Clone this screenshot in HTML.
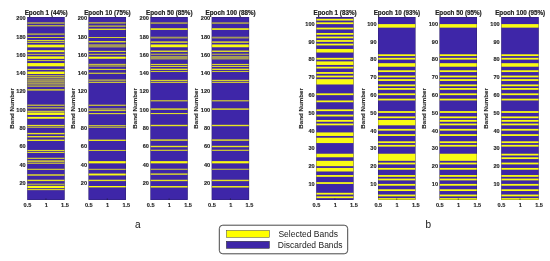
<!DOCTYPE html>
<html lang="en"><head><meta charset="utf-8"><title>Selected vs Discarded Bands</title>
<style>html,body{margin:0;padding:0;background:#fff}svg{display:block}text{font-family:"Liberation Sans",Arial,sans-serif;fill:#222}.t{font-size:6.3px;font-weight:bold;text-anchor:middle;stroke:#222;stroke-width:0.2px}.k{font-size:5.6px;font-weight:bold;stroke:#222;stroke-width:0.12px}.yl{font-size:6.2px;font-weight:bold;text-anchor:middle;stroke:#222;stroke-width:0.1px}.cap{font-size:10px;text-anchor:middle;fill:#111}.lg{font-size:8.5px;text-anchor:middle}</style></head><body>
<svg width="550" height="261" viewBox="0 0 550 261">
<defs><filter id="vb" x="-5%" y="-5%" width="110%" height="110%"><feGaussianBlur stdDeviation="0 0.15"/></filter></defs>
<rect width="550" height="261" fill="#fff"/>
<clipPath id="ca0"><rect x="27.2" y="17.12" width="37.5" height="182.78"/></clipPath>
<g clip-path="url(#ca0)"><g>
<rect x="24.2" y="13" width="43.5" height="190.9" fill="#3E26A8"/>
<rect x="24.2" y="22.45" width="43.5" height="1.1" fill="#F9FB14" fill-opacity="0.86"/>
<rect x="24.2" y="25.25" width="43.5" height="1.1" fill="#F9FB14" fill-opacity="0.86"/>
<rect x="24.2" y="33.55" width="43.5" height="1.1" fill="#F9FB14" fill-opacity="0.86"/>
<rect x="24.2" y="37" width="43.5" height="1" fill="#F9FB14" fill-opacity="0.8"/>
<rect x="24.2" y="39.96" width="43.5" height="1.08" fill="#F9FB14" fill-opacity="0.86"/>
<rect x="24.2" y="41.76" width="43.5" height="1.08" fill="#F9FB14" fill-opacity="0.86"/>
<rect x="24.2" y="44.65" width="43.5" height="2.7" fill="#F9FB14"/>
<rect x="24.2" y="50.25" width="43.5" height="1.9" fill="#F9FB14"/>
<rect x="24.2" y="53.8" width="43.5" height="1" fill="#F9FB14" fill-opacity="0.8"/>
<rect x="24.2" y="56.35" width="43.5" height="2.5" fill="#F9FB14"/>
<rect x="24.2" y="60.1" width="43.5" height="1" fill="#F9FB14" fill-opacity="0.8"/>
<rect x="24.2" y="63.05" width="43.5" height="3.3" fill="#F9FB14"/>
<rect x="24.2" y="68.85" width="43.5" height="1.1" fill="#F9FB14" fill-opacity="0.86"/>
<rect x="24.2" y="71.55" width="43.5" height="2.5" fill="#F9FB14"/>
<rect x="24.2" y="75.25" width="43.5" height="1.1" fill="#F9FB14" fill-opacity="0.86"/>
<rect x="24.2" y="77.25" width="43.5" height="1.1" fill="#F9FB14" fill-opacity="0.86"/>
<rect x="24.2" y="79.45" width="43.5" height="1.1" fill="#F9FB14" fill-opacity="0.86"/>
<rect x="24.2" y="81.35" width="43.5" height="1.1" fill="#F9FB14" fill-opacity="0.86"/>
<rect x="24.2" y="83.35" width="43.5" height="1.1" fill="#F9FB14" fill-opacity="0.86"/>
<rect x="24.2" y="85.55" width="43.5" height="1.1" fill="#F9FB14" fill-opacity="0.86"/>
<rect x="24.2" y="89.3" width="43.5" height="1.2" fill="#F9FB14"/>
<rect x="24.2" y="104.65" width="43.5" height="1.1" fill="#F9FB14" fill-opacity="0.86"/>
<rect x="24.2" y="107.35" width="43.5" height="1.1" fill="#F9FB14" fill-opacity="0.86"/>
<rect x="24.2" y="110.7" width="43.5" height="1.7" fill="#F9FB14" fill-opacity="0.75"/>
<rect x="24.2" y="112.65" width="43.5" height="2.3" fill="#F9FB14"/>
<rect x="24.2" y="116.85" width="43.5" height="1.9" fill="#F9FB14"/>
<rect x="24.2" y="124.88" width="43.5" height="1.25" fill="#F9FB14" fill-opacity="0.9"/>
<rect x="24.2" y="126.73" width="43.5" height="0.95" fill="#F9FB14" fill-opacity="0.86"/>
<rect x="24.2" y="132.9" width="43.5" height="1.4" fill="#F9FB14" fill-opacity="0.9"/>
<rect x="24.2" y="136" width="43.5" height="1.4" fill="#F9FB14" fill-opacity="0.9"/>
<rect x="24.2" y="139.6" width="43.5" height="1.4" fill="#F9FB14" fill-opacity="0.9"/>
<rect x="24.2" y="149.95" width="43.5" height="1.1" fill="#F9FB14" fill-opacity="0.86"/>
<rect x="24.2" y="151.85" width="43.5" height="1.1" fill="#F9FB14" fill-opacity="0.86"/>
<rect x="24.2" y="157.75" width="43.5" height="1.1" fill="#F9FB14" fill-opacity="0.86"/>
<rect x="24.2" y="160.4" width="43.5" height="1.4" fill="#F9FB14" fill-opacity="0.9"/>
<rect x="24.2" y="162.65" width="43.5" height="1.1" fill="#F9FB14" fill-opacity="0.86"/>
<rect x="24.2" y="168.75" width="43.5" height="1.1" fill="#F9FB14" fill-opacity="0.86"/>
<rect x="24.2" y="174.3" width="43.5" height="1.4" fill="#F9FB14" fill-opacity="0.9"/>
<rect x="24.2" y="179.7" width="43.5" height="1.4" fill="#F9FB14" fill-opacity="0.9"/>
<rect x="24.2" y="183.7" width="43.5" height="1" fill="#F9FB14" fill-opacity="0.8"/>
<rect x="24.2" y="185.85" width="43.5" height="2.3" fill="#F9FB14"/>
<rect x="24.2" y="189.05" width="43.5" height="1.1" fill="#F9FB14" fill-opacity="0.86"/>
</g></g>
<text class="t" x="46.15" y="14.7">Epoch 1 (44%)</text>
<text class="k" text-anchor="end" x="25.7" y="184.82">20</text>
<text class="k" text-anchor="end" x="25.7" y="166.53">40</text>
<text class="k" text-anchor="end" x="25.7" y="148.24">60</text>
<text class="k" text-anchor="end" x="25.7" y="129.95">80</text>
<text class="k" text-anchor="end" x="25.7" y="111.66">100</text>
<text class="k" text-anchor="end" x="25.7" y="93.37">120</text>
<text class="k" text-anchor="end" x="25.7" y="75.08">140</text>
<text class="k" text-anchor="end" x="25.7" y="56.79">160</text>
<text class="k" text-anchor="end" x="25.7" y="38.5">180</text>
<text class="k" text-anchor="end" x="25.7" y="20.21">200</text>
<text class="k" text-anchor="middle" x="27.5" y="207.35">0.5</text>
<text class="k" text-anchor="middle" x="46.25" y="207.35">1</text>
<text class="k" text-anchor="middle" x="65" y="207.35">1.5</text>
<rect x="27.45" y="17.25" width="37" height="182.4" fill="none" stroke="#1a1a1a" stroke-opacity="0.4" stroke-width="0.5"/>
<rect x="45.5" y="198.4" width="0.9" height="1.5" fill="#1a1a1a" fill-opacity="0.6"/>
<text class="yl" transform="translate(11.6 108.4) rotate(-90)" x="0" y="2.1">Band Number</text>
<clipPath id="ca1"><rect x="88.5" y="17.12" width="37.5" height="182.78"/></clipPath>
<g clip-path="url(#ca1)"><g>
<rect x="85.5" y="13" width="43.5" height="190.9" fill="#3E26A8"/>
<rect x="85.5" y="22.35" width="43.5" height="1.1" fill="#F9FB14" fill-opacity="0.86"/>
<rect x="85.5" y="25.55" width="43.5" height="1.1" fill="#F9FB14" fill-opacity="0.86"/>
<rect x="85.5" y="28.6" width="43.5" height="1.4" fill="#F9FB14" fill-opacity="0.9"/>
<rect x="85.5" y="37" width="43.5" height="1" fill="#F9FB14" fill-opacity="0.8"/>
<rect x="85.5" y="41.05" width="43.5" height="1.4" fill="#F9FB14" fill-opacity="0.9"/>
<rect x="85.5" y="44.2" width="43.5" height="3.3" fill="#F9FB14" fill-opacity="0.55"/>
<rect x="85.5" y="50.85" width="43.5" height="1.1" fill="#F9FB14" fill-opacity="0.86"/>
<rect x="85.5" y="53.8" width="43.5" height="1" fill="#F9FB14" fill-opacity="0.8"/>
<rect x="85.5" y="56.65" width="43.5" height="2.1" fill="#F9FB14"/>
<rect x="85.5" y="63.85" width="43.5" height="1" fill="#F9FB14" fill-opacity="0.86"/>
<rect x="85.5" y="65.5" width="43.5" height="1" fill="#F9FB14" fill-opacity="0.86"/>
<rect x="85.5" y="68.85" width="43.5" height="1.1" fill="#F9FB14" fill-opacity="0.86"/>
<rect x="85.5" y="72.7" width="43.5" height="1.1" fill="#F9FB14" fill-opacity="0.86"/>
<rect x="85.5" y="79.55" width="43.5" height="1.1" fill="#F9FB14" fill-opacity="0.86"/>
<rect x="85.5" y="81.75" width="43.5" height="1.1" fill="#F9FB14" fill-opacity="0.86"/>
<rect x="85.5" y="104.7" width="43.5" height="1.1" fill="#F9FB14" fill-opacity="0.86"/>
<rect x="85.5" y="108.51" width="43.5" height="0.98" fill="#F9FB14" fill-opacity="0.86"/>
<rect x="85.5" y="110.11" width="43.5" height="0.98" fill="#F9FB14" fill-opacity="0.86"/>
<rect x="85.5" y="113.05" width="43.5" height="1.1" fill="#F9FB14" fill-opacity="0.86"/>
<rect x="85.5" y="125.18" width="43.5" height="0.95" fill="#F9FB14" fill-opacity="0.86"/>
<rect x="85.5" y="126.73" width="43.5" height="0.95" fill="#F9FB14" fill-opacity="0.86"/>
<rect x="85.5" y="139.6" width="43.5" height="1.4" fill="#F9FB14" fill-opacity="0.9"/>
<rect x="85.5" y="149.95" width="43.5" height="1" fill="#F9FB14" fill-opacity="0.8"/>
<rect x="85.5" y="161.15" width="43.5" height="2.2" fill="#F9FB14"/>
<rect x="85.5" y="168.8" width="43.5" height="1" fill="#F9FB14" fill-opacity="0.8"/>
<rect x="85.5" y="173.55" width="43.5" height="1.9" fill="#F9FB14"/>
<rect x="85.5" y="179.7" width="43.5" height="1.4" fill="#F9FB14" fill-opacity="0.9"/>
<rect x="85.5" y="186" width="43.5" height="1.4" fill="#F9FB14"/>
</g></g>
<text class="t" x="107.45" y="14.7">Epoch 10 (75%)</text>
<text class="k" text-anchor="end" x="87" y="184.82">20</text>
<text class="k" text-anchor="end" x="87" y="166.53">40</text>
<text class="k" text-anchor="end" x="87" y="148.24">60</text>
<text class="k" text-anchor="end" x="87" y="129.95">80</text>
<text class="k" text-anchor="end" x="87" y="111.66">100</text>
<text class="k" text-anchor="end" x="87" y="93.37">120</text>
<text class="k" text-anchor="end" x="87" y="75.08">140</text>
<text class="k" text-anchor="end" x="87" y="56.79">160</text>
<text class="k" text-anchor="end" x="87" y="38.5">180</text>
<text class="k" text-anchor="end" x="87" y="20.21">200</text>
<text class="k" text-anchor="middle" x="88.8" y="207.35">0.5</text>
<text class="k" text-anchor="middle" x="107.55" y="207.35">1</text>
<text class="k" text-anchor="middle" x="126.3" y="207.35">1.5</text>
<rect x="88.75" y="17.25" width="37" height="182.4" fill="none" stroke="#1a1a1a" stroke-opacity="0.4" stroke-width="0.5"/>
<rect x="106.8" y="198.4" width="0.9" height="1.5" fill="#1a1a1a" fill-opacity="0.6"/>
<text class="yl" transform="translate(72.9 108.4) rotate(-90)" x="0" y="2.1">Band Number</text>
<clipPath id="ca2"><rect x="150.4" y="17.12" width="37.4" height="182.78"/></clipPath>
<g clip-path="url(#ca2)"><g>
<rect x="147.4" y="13" width="43.4" height="190.9" fill="#3E26A8"/>
<rect x="147.4" y="22.5" width="43.4" height="1.1" fill="#F9FB14" fill-opacity="0.86"/>
<rect x="147.4" y="28.27" width="43.4" height="1.6" fill="#F9FB14"/>
<rect x="147.4" y="36.7" width="43.4" height="1.8" fill="#F9FB14" fill-opacity="0.55"/>
<rect x="147.4" y="41.4" width="43.4" height="1.4" fill="#F9FB14" fill-opacity="0.9"/>
<rect x="147.4" y="44.45" width="43.4" height="2.8" fill="#F9FB14"/>
<rect x="147.4" y="50.55" width="43.4" height="1.4" fill="#F9FB14" fill-opacity="0.9"/>
<rect x="147.4" y="53.7" width="43.4" height="1" fill="#F9FB14" fill-opacity="0.8"/>
<rect x="147.4" y="55.9" width="43.4" height="3.6" fill="#F9FB14" fill-opacity="0.55"/>
<rect x="147.4" y="63.9" width="43.4" height="1.1" fill="#F9FB14" fill-opacity="0.86"/>
<rect x="147.4" y="65.85" width="43.4" height="1.1" fill="#F9FB14" fill-opacity="0.86"/>
<rect x="147.4" y="68.6" width="43.4" height="1.4" fill="#F9FB14" fill-opacity="0.9"/>
<rect x="147.4" y="70.95" width="43.4" height="1" fill="#F9FB14" fill-opacity="0.8"/>
<rect x="147.4" y="79.85" width="43.4" height="1.1" fill="#F9FB14" fill-opacity="0.86"/>
<rect x="147.4" y="81.75" width="43.4" height="1.1" fill="#F9FB14" fill-opacity="0.86"/>
<rect x="147.4" y="100.25" width="43.4" height="1.1" fill="#F9FB14" fill-opacity="0.86"/>
<rect x="147.4" y="108.4" width="43.4" height="1.4" fill="#F9FB14" fill-opacity="0.9"/>
<rect x="147.4" y="113" width="43.4" height="1.1" fill="#F9FB14" fill-opacity="0.86"/>
<rect x="147.4" y="124.8" width="43.4" height="1.4" fill="#F9FB14" fill-opacity="0.9"/>
<rect x="147.4" y="139.4" width="43.4" height="1.4" fill="#F9FB14" fill-opacity="0.9"/>
<rect x="147.4" y="145.8" width="43.4" height="1.4" fill="#F9FB14" fill-opacity="0.9"/>
<rect x="147.4" y="149.75" width="43.4" height="1.1" fill="#F9FB14" fill-opacity="0.86"/>
<rect x="147.4" y="161.15" width="43.4" height="2.2" fill="#F9FB14"/>
<rect x="147.4" y="168.75" width="43.4" height="1" fill="#F9FB14" fill-opacity="0.8"/>
<rect x="147.4" y="173.5" width="43.4" height="1.2" fill="#F9FB14"/>
<rect x="147.4" y="179.75" width="43.4" height="1.4" fill="#F9FB14" fill-opacity="0.9"/>
<rect x="147.4" y="186.1" width="43.4" height="1.4" fill="#F9FB14"/>
</g></g>
<text class="t" x="169.3" y="14.7">Epoch 50 (85%)</text>
<text class="k" text-anchor="end" x="148.9" y="184.82">20</text>
<text class="k" text-anchor="end" x="148.9" y="166.53">40</text>
<text class="k" text-anchor="end" x="148.9" y="148.24">60</text>
<text class="k" text-anchor="end" x="148.9" y="129.95">80</text>
<text class="k" text-anchor="end" x="148.9" y="111.66">100</text>
<text class="k" text-anchor="end" x="148.9" y="93.37">120</text>
<text class="k" text-anchor="end" x="148.9" y="75.08">140</text>
<text class="k" text-anchor="end" x="148.9" y="56.79">160</text>
<text class="k" text-anchor="end" x="148.9" y="38.5">180</text>
<text class="k" text-anchor="end" x="148.9" y="20.21">200</text>
<text class="k" text-anchor="middle" x="150.7" y="207.35">0.5</text>
<text class="k" text-anchor="middle" x="169.4" y="207.35">1</text>
<text class="k" text-anchor="middle" x="188.1" y="207.35">1.5</text>
<rect x="150.65" y="17.25" width="36.9" height="182.4" fill="none" stroke="#1a1a1a" stroke-opacity="0.4" stroke-width="0.5"/>
<rect x="168.65" y="198.4" width="0.9" height="1.5" fill="#1a1a1a" fill-opacity="0.6"/>
<text class="yl" transform="translate(134.8 108.4) rotate(-90)" x="0" y="2.1">Band Number</text>
<clipPath id="ca3"><rect x="211.7" y="17.12" width="37.4" height="182.78"/></clipPath>
<g clip-path="url(#ca3)"><g>
<rect x="208.7" y="13" width="43.4" height="190.9" fill="#3E26A8"/>
<rect x="208.7" y="22.5" width="43.4" height="1.1" fill="#F9FB14" fill-opacity="0.86"/>
<rect x="208.7" y="28.27" width="43.4" height="1.6" fill="#F9FB14"/>
<rect x="208.7" y="36.7" width="43.4" height="1.8" fill="#F9FB14" fill-opacity="0.55"/>
<rect x="208.7" y="41.4" width="43.4" height="1.4" fill="#F9FB14" fill-opacity="0.9"/>
<rect x="208.7" y="44.45" width="43.4" height="2.8" fill="#F9FB14"/>
<rect x="208.7" y="50.55" width="43.4" height="1.4" fill="#F9FB14" fill-opacity="0.9"/>
<rect x="208.7" y="53.7" width="43.4" height="1" fill="#F9FB14" fill-opacity="0.8"/>
<rect x="208.7" y="55.9" width="43.4" height="3.6" fill="#F9FB14" fill-opacity="0.55"/>
<rect x="208.7" y="63.9" width="43.4" height="1.1" fill="#F9FB14" fill-opacity="0.86"/>
<rect x="208.7" y="65.85" width="43.4" height="1.1" fill="#F9FB14" fill-opacity="0.86"/>
<rect x="208.7" y="68.6" width="43.4" height="1.4" fill="#F9FB14" fill-opacity="0.9"/>
<rect x="208.7" y="70.95" width="43.4" height="1" fill="#F9FB14" fill-opacity="0.8"/>
<rect x="208.7" y="79.85" width="43.4" height="1.1" fill="#F9FB14" fill-opacity="0.86"/>
<rect x="208.7" y="81.75" width="43.4" height="1.1" fill="#F9FB14" fill-opacity="0.86"/>
<rect x="208.7" y="100.25" width="43.4" height="1.1" fill="#F9FB14" fill-opacity="0.86"/>
<rect x="208.7" y="108.4" width="43.4" height="1.4" fill="#F9FB14" fill-opacity="0.9"/>
<rect x="208.7" y="124.8" width="43.4" height="1.4" fill="#F9FB14" fill-opacity="0.9"/>
<rect x="208.7" y="139.4" width="43.4" height="1.4" fill="#F9FB14" fill-opacity="0.9"/>
<rect x="208.7" y="145.8" width="43.4" height="1.4" fill="#F9FB14" fill-opacity="0.9"/>
<rect x="208.7" y="149.75" width="43.4" height="1.1" fill="#F9FB14" fill-opacity="0.86"/>
<rect x="208.7" y="161.15" width="43.4" height="2.2" fill="#F9FB14"/>
<rect x="208.7" y="168.75" width="43.4" height="1" fill="#F9FB14" fill-opacity="0.8"/>
<rect x="208.7" y="179.75" width="43.4" height="1.4" fill="#F9FB14" fill-opacity="0.9"/>
<rect x="208.7" y="186.1" width="43.4" height="1.4" fill="#F9FB14"/>
</g></g>
<text class="t" x="230.6" y="14.7">Epoch 100 (88%)</text>
<text class="k" text-anchor="end" x="210.2" y="184.82">20</text>
<text class="k" text-anchor="end" x="210.2" y="166.53">40</text>
<text class="k" text-anchor="end" x="210.2" y="148.24">60</text>
<text class="k" text-anchor="end" x="210.2" y="129.95">80</text>
<text class="k" text-anchor="end" x="210.2" y="111.66">100</text>
<text class="k" text-anchor="end" x="210.2" y="93.37">120</text>
<text class="k" text-anchor="end" x="210.2" y="75.08">140</text>
<text class="k" text-anchor="end" x="210.2" y="56.79">160</text>
<text class="k" text-anchor="end" x="210.2" y="38.5">180</text>
<text class="k" text-anchor="end" x="210.2" y="20.21">200</text>
<text class="k" text-anchor="middle" x="212" y="207.35">0.5</text>
<text class="k" text-anchor="middle" x="230.7" y="207.35">1</text>
<text class="k" text-anchor="middle" x="249.4" y="207.35">1.5</text>
<rect x="211.95" y="17.25" width="36.9" height="182.4" fill="none" stroke="#1a1a1a" stroke-opacity="0.4" stroke-width="0.5"/>
<rect x="229.95" y="198.4" width="0.9" height="1.5" fill="#1a1a1a" fill-opacity="0.6"/>
<text class="yl" transform="translate(196.1 108.4) rotate(-90)" x="0" y="2.1">Band Number</text>
<clipPath id="cb0"><rect x="316.2" y="17.12" width="37.4" height="182.78"/></clipPath>
<g clip-path="url(#cb0)"><g>
<rect x="313.2" y="13" width="43.4" height="190.9" fill="#3E26A8"/>
<rect x="313.2" y="18.78" width="43.4" height="1.78" fill="#F9FB14"/>
<rect x="313.2" y="22.33" width="43.4" height="1.78" fill="#F9FB14"/>
<rect x="313.2" y="27.65" width="43.4" height="1.78" fill="#F9FB14"/>
<rect x="313.2" y="32.98" width="43.4" height="1.78" fill="#F9FB14"/>
<rect x="313.2" y="36.53" width="43.4" height="1.78" fill="#F9FB14"/>
<rect x="313.2" y="40.08" width="43.4" height="1.78" fill="#F9FB14"/>
<rect x="313.2" y="43.64" width="43.4" height="1.78" fill="#F9FB14"/>
<rect x="313.2" y="48.96" width="43.4" height="3.55" fill="#F9FB14"/>
<rect x="313.2" y="57.84" width="43.4" height="1.78" fill="#F9FB14"/>
<rect x="313.2" y="61.39" width="43.4" height="3.55" fill="#F9FB14"/>
<rect x="313.2" y="66.72" width="43.4" height="1.78" fill="#F9FB14"/>
<rect x="313.2" y="72.05" width="43.4" height="1.78" fill="#F9FB14"/>
<rect x="313.2" y="75.6" width="43.4" height="1.78" fill="#F9FB14"/>
<rect x="313.2" y="79.15" width="43.4" height="5.33" fill="#F9FB14"/>
<rect x="313.2" y="93.36" width="43.4" height="1.78" fill="#F9FB14"/>
<rect x="313.2" y="100.46" width="43.4" height="1.78" fill="#F9FB14"/>
<rect x="313.2" y="109.34" width="43.4" height="1.78" fill="#F9FB14"/>
<rect x="313.2" y="114.67" width="43.4" height="1.78" fill="#F9FB14"/>
<rect x="313.2" y="119.99" width="43.4" height="1.78" fill="#F9FB14"/>
<rect x="313.2" y="123.54" width="43.4" height="1.78" fill="#F9FB14"/>
<rect x="313.2" y="132.42" width="43.4" height="3.55" fill="#F9FB14"/>
<rect x="313.2" y="137.75" width="43.4" height="5.33" fill="#F9FB14"/>
<rect x="313.2" y="153.73" width="43.4" height="3.55" fill="#F9FB14"/>
<rect x="313.2" y="160.83" width="43.4" height="5.33" fill="#F9FB14"/>
<rect x="313.2" y="167.94" width="43.4" height="3.55" fill="#F9FB14"/>
<rect x="313.2" y="175.04" width="43.4" height="1.78" fill="#F9FB14"/>
<rect x="313.2" y="182.14" width="43.4" height="1.78" fill="#F9FB14"/>
<rect x="313.2" y="192.8" width="43.4" height="1.78" fill="#F9FB14"/>
<rect x="313.2" y="196.35" width="43.4" height="1.78" fill="#F9FB14"/>
</g></g>
<text class="t" x="335.1" y="14.7">Epoch 1 (83%)</text>
<text class="k" text-anchor="end" x="314.7" y="185.78">10</text>
<text class="k" text-anchor="end" x="314.7" y="168.02">20</text>
<text class="k" text-anchor="end" x="314.7" y="150.27">30</text>
<text class="k" text-anchor="end" x="314.7" y="132.51">40</text>
<text class="k" text-anchor="end" x="314.7" y="114.75">50</text>
<text class="k" text-anchor="end" x="314.7" y="96.99">60</text>
<text class="k" text-anchor="end" x="314.7" y="79.24">70</text>
<text class="k" text-anchor="end" x="314.7" y="61.48">80</text>
<text class="k" text-anchor="end" x="314.7" y="43.72">90</text>
<text class="k" text-anchor="end" x="314.7" y="25.97">100</text>
<text class="k" text-anchor="middle" x="316.5" y="207.35">0.5</text>
<text class="k" text-anchor="middle" x="335.2" y="207.35">1</text>
<text class="k" text-anchor="middle" x="353.9" y="207.35">1.5</text>
<rect x="316.45" y="17.25" width="36.9" height="182.4" fill="none" stroke="#1a1a1a" stroke-opacity="0.4" stroke-width="0.5"/>
<rect x="334.45" y="198.4" width="0.9" height="1.5" fill="#1a1a1a" fill-opacity="0.6"/>
<text class="yl" transform="translate(300.6 108.4) rotate(-90)" x="0" y="2.1">Band Number</text>
<clipPath id="cb1"><rect x="378" y="17.12" width="37.5" height="182.78"/></clipPath>
<g clip-path="url(#cb1)"><g>
<rect x="375" y="13" width="43.5" height="190.9" fill="#3E26A8"/>
<rect x="375" y="24.1" width="43.5" height="3.55" fill="#F9FB14"/>
<rect x="375" y="54.29" width="43.5" height="1.78" fill="#F9FB14"/>
<rect x="375" y="57.84" width="43.5" height="1.78" fill="#F9FB14"/>
<rect x="375" y="63.17" width="43.5" height="3.55" fill="#F9FB14"/>
<rect x="375" y="70.27" width="43.5" height="1.78" fill="#F9FB14"/>
<rect x="375" y="75.6" width="43.5" height="1.78" fill="#F9FB14"/>
<rect x="375" y="79.15" width="43.5" height="1.78" fill="#F9FB14"/>
<rect x="375" y="84.48" width="43.5" height="1.78" fill="#F9FB14"/>
<rect x="375" y="88.03" width="43.5" height="1.78" fill="#F9FB14"/>
<rect x="375" y="93.36" width="43.5" height="1.78" fill="#F9FB14"/>
<rect x="375" y="98.68" width="43.5" height="1.78" fill="#F9FB14"/>
<rect x="375" y="111.11" width="43.5" height="1.78" fill="#F9FB14"/>
<rect x="375" y="116.44" width="43.5" height="1.78" fill="#F9FB14"/>
<rect x="375" y="119.99" width="43.5" height="5.33" fill="#F9FB14"/>
<rect x="375" y="128.87" width="43.5" height="1.78" fill="#F9FB14"/>
<rect x="375" y="134.2" width="43.5" height="1.78" fill="#F9FB14"/>
<rect x="375" y="141.3" width="43.5" height="1.78" fill="#F9FB14"/>
<rect x="375" y="144.85" width="43.5" height="1.78" fill="#F9FB14"/>
<rect x="375" y="153.73" width="43.5" height="7.1" fill="#F9FB14"/>
<rect x="375" y="162.61" width="43.5" height="1.78" fill="#F9FB14"/>
<rect x="375" y="167.94" width="43.5" height="1.78" fill="#F9FB14"/>
<rect x="375" y="175.04" width="43.5" height="1.78" fill="#F9FB14"/>
<rect x="375" y="178.59" width="43.5" height="1.78" fill="#F9FB14"/>
<rect x="375" y="183.92" width="43.5" height="1.78" fill="#F9FB14"/>
<rect x="375" y="189.25" width="43.5" height="1.78" fill="#F9FB14"/>
<rect x="375" y="194.57" width="43.5" height="1.78" fill="#F9FB14"/>
<rect x="375" y="198.12" width="43.5" height="1.78" fill="#F9FB14"/>
</g></g>
<text class="t" x="396.95" y="14.7">Epoch 10 (93%)</text>
<text class="k" text-anchor="end" x="376.5" y="185.78">10</text>
<text class="k" text-anchor="end" x="376.5" y="168.02">20</text>
<text class="k" text-anchor="end" x="376.5" y="150.27">30</text>
<text class="k" text-anchor="end" x="376.5" y="132.51">40</text>
<text class="k" text-anchor="end" x="376.5" y="114.75">50</text>
<text class="k" text-anchor="end" x="376.5" y="96.99">60</text>
<text class="k" text-anchor="end" x="376.5" y="79.24">70</text>
<text class="k" text-anchor="end" x="376.5" y="61.48">80</text>
<text class="k" text-anchor="end" x="376.5" y="43.72">90</text>
<text class="k" text-anchor="end" x="376.5" y="25.97">100</text>
<text class="k" text-anchor="middle" x="378.3" y="207.35">0.5</text>
<text class="k" text-anchor="middle" x="397.05" y="207.35">1</text>
<text class="k" text-anchor="middle" x="415.8" y="207.35">1.5</text>
<rect x="378.25" y="17.25" width="37" height="182.4" fill="none" stroke="#1a1a1a" stroke-opacity="0.4" stroke-width="0.5"/>
<rect x="396.3" y="198.4" width="0.9" height="1.5" fill="#1a1a1a" fill-opacity="0.6"/>
<text class="yl" transform="translate(362.4 108.4) rotate(-90)" x="0" y="2.1">Band Number</text>
<clipPath id="cb2"><rect x="439.5" y="17.12" width="37.5" height="182.78"/></clipPath>
<g clip-path="url(#cb2)"><g>
<rect x="436.5" y="13" width="43.5" height="190.9" fill="#3E26A8"/>
<rect x="436.5" y="24.1" width="43.5" height="3.55" fill="#F9FB14"/>
<rect x="436.5" y="54.29" width="43.5" height="1.78" fill="#F9FB14"/>
<rect x="436.5" y="57.84" width="43.5" height="1.78" fill="#F9FB14"/>
<rect x="436.5" y="63.17" width="43.5" height="3.55" fill="#F9FB14"/>
<rect x="436.5" y="70.27" width="43.5" height="1.78" fill="#F9FB14"/>
<rect x="436.5" y="75.6" width="43.5" height="1.78" fill="#F9FB14"/>
<rect x="436.5" y="79.15" width="43.5" height="1.78" fill="#F9FB14"/>
<rect x="436.5" y="84.48" width="43.5" height="1.78" fill="#F9FB14"/>
<rect x="436.5" y="88.03" width="43.5" height="1.78" fill="#F9FB14"/>
<rect x="436.5" y="93.36" width="43.5" height="1.78" fill="#F9FB14"/>
<rect x="436.5" y="98.68" width="43.5" height="1.78" fill="#F9FB14"/>
<rect x="436.5" y="111.11" width="43.5" height="1.78" fill="#F9FB14"/>
<rect x="436.5" y="116.44" width="43.5" height="1.78" fill="#F9FB14"/>
<rect x="436.5" y="119.99" width="43.5" height="1.78" fill="#F9FB14"/>
<rect x="436.5" y="123.54" width="43.5" height="1.78" fill="#F9FB14"/>
<rect x="436.5" y="128.87" width="43.5" height="1.78" fill="#F9FB14"/>
<rect x="436.5" y="134.2" width="43.5" height="1.78" fill="#F9FB14"/>
<rect x="436.5" y="141.3" width="43.5" height="1.78" fill="#F9FB14"/>
<rect x="436.5" y="144.85" width="43.5" height="1.78" fill="#F9FB14"/>
<rect x="436.5" y="153.73" width="43.5" height="7.1" fill="#F9FB14"/>
<rect x="436.5" y="162.61" width="43.5" height="1.78" fill="#F9FB14"/>
<rect x="436.5" y="167.94" width="43.5" height="1.78" fill="#F9FB14"/>
<rect x="436.5" y="175.04" width="43.5" height="1.78" fill="#F9FB14"/>
<rect x="436.5" y="178.59" width="43.5" height="1.78" fill="#F9FB14"/>
<rect x="436.5" y="183.92" width="43.5" height="1.78" fill="#F9FB14"/>
<rect x="436.5" y="189.25" width="43.5" height="1.78" fill="#F9FB14"/>
<rect x="436.5" y="194.57" width="43.5" height="1.78" fill="#F9FB14"/>
<rect x="436.5" y="198.12" width="43.5" height="1.78" fill="#F9FB14"/>
</g></g>
<text class="t" x="458.45" y="14.7">Epoch 50 (95%)</text>
<text class="k" text-anchor="end" x="438" y="185.78">10</text>
<text class="k" text-anchor="end" x="438" y="168.02">20</text>
<text class="k" text-anchor="end" x="438" y="150.27">30</text>
<text class="k" text-anchor="end" x="438" y="132.51">40</text>
<text class="k" text-anchor="end" x="438" y="114.75">50</text>
<text class="k" text-anchor="end" x="438" y="96.99">60</text>
<text class="k" text-anchor="end" x="438" y="79.24">70</text>
<text class="k" text-anchor="end" x="438" y="61.48">80</text>
<text class="k" text-anchor="end" x="438" y="43.72">90</text>
<text class="k" text-anchor="end" x="438" y="25.97">100</text>
<text class="k" text-anchor="middle" x="439.8" y="207.35">0.5</text>
<text class="k" text-anchor="middle" x="458.55" y="207.35">1</text>
<text class="k" text-anchor="middle" x="477.3" y="207.35">1.5</text>
<rect x="439.75" y="17.25" width="37" height="182.4" fill="none" stroke="#1a1a1a" stroke-opacity="0.4" stroke-width="0.5"/>
<rect x="457.8" y="198.4" width="0.9" height="1.5" fill="#1a1a1a" fill-opacity="0.6"/>
<text class="yl" transform="translate(423.9 108.4) rotate(-90)" x="0" y="2.1">Band Number</text>
<clipPath id="cb3"><rect x="501.2" y="17.12" width="37.6" height="182.78"/></clipPath>
<g clip-path="url(#cb3)"><g>
<rect x="498.2" y="13" width="43.6" height="190.9" fill="#3E26A8"/>
<rect x="498.2" y="24.1" width="43.6" height="3.55" fill="#F9FB14"/>
<rect x="498.2" y="54.29" width="43.6" height="1.78" fill="#F9FB14"/>
<rect x="498.2" y="57.84" width="43.6" height="1.78" fill="#F9FB14"/>
<rect x="498.2" y="63.17" width="43.6" height="3.55" fill="#F9FB14"/>
<rect x="498.2" y="70.27" width="43.6" height="1.78" fill="#F9FB14"/>
<rect x="498.2" y="75.6" width="43.6" height="1.78" fill="#F9FB14"/>
<rect x="498.2" y="79.15" width="43.6" height="1.78" fill="#F9FB14"/>
<rect x="498.2" y="84.48" width="43.6" height="1.78" fill="#F9FB14"/>
<rect x="498.2" y="88.03" width="43.6" height="1.78" fill="#F9FB14"/>
<rect x="498.2" y="93.36" width="43.6" height="1.78" fill="#F9FB14"/>
<rect x="498.2" y="98.68" width="43.6" height="1.78" fill="#F9FB14"/>
<rect x="498.2" y="111.11" width="43.6" height="1.78" fill="#F9FB14"/>
<rect x="498.2" y="116.44" width="43.6" height="1.78" fill="#F9FB14"/>
<rect x="498.2" y="119.99" width="43.6" height="1.78" fill="#F9FB14"/>
<rect x="498.2" y="123.54" width="43.6" height="1.78" fill="#F9FB14"/>
<rect x="498.2" y="128.87" width="43.6" height="1.78" fill="#F9FB14"/>
<rect x="498.2" y="134.2" width="43.6" height="1.78" fill="#F9FB14"/>
<rect x="498.2" y="141.3" width="43.6" height="1.78" fill="#F9FB14"/>
<rect x="498.2" y="144.85" width="43.6" height="1.78" fill="#F9FB14"/>
<rect x="498.2" y="153.73" width="43.6" height="1.78" fill="#F9FB14"/>
<rect x="498.2" y="157.28" width="43.6" height="1.78" fill="#F9FB14"/>
<rect x="498.2" y="162.61" width="43.6" height="1.78" fill="#F9FB14"/>
<rect x="498.2" y="167.94" width="43.6" height="1.78" fill="#F9FB14"/>
<rect x="498.2" y="175.04" width="43.6" height="1.78" fill="#F9FB14"/>
<rect x="498.2" y="178.59" width="43.6" height="1.78" fill="#F9FB14"/>
<rect x="498.2" y="183.92" width="43.6" height="1.78" fill="#F9FB14"/>
<rect x="498.2" y="189.25" width="43.6" height="1.78" fill="#F9FB14"/>
<rect x="498.2" y="194.57" width="43.6" height="1.78" fill="#F9FB14"/>
<rect x="498.2" y="198.12" width="43.6" height="1.78" fill="#F9FB14"/>
</g></g>
<text class="t" x="520.2" y="14.7">Epoch 100 (95%)</text>
<text class="k" text-anchor="end" x="499.7" y="185.78">10</text>
<text class="k" text-anchor="end" x="499.7" y="168.02">20</text>
<text class="k" text-anchor="end" x="499.7" y="150.27">30</text>
<text class="k" text-anchor="end" x="499.7" y="132.51">40</text>
<text class="k" text-anchor="end" x="499.7" y="114.75">50</text>
<text class="k" text-anchor="end" x="499.7" y="96.99">60</text>
<text class="k" text-anchor="end" x="499.7" y="79.24">70</text>
<text class="k" text-anchor="end" x="499.7" y="61.48">80</text>
<text class="k" text-anchor="end" x="499.7" y="43.72">90</text>
<text class="k" text-anchor="end" x="499.7" y="25.97">100</text>
<text class="k" text-anchor="middle" x="501.5" y="207.35">0.5</text>
<text class="k" text-anchor="middle" x="520.3" y="207.35">1</text>
<text class="k" text-anchor="middle" x="539.1" y="207.35">1.5</text>
<rect x="501.45" y="17.25" width="37.1" height="182.4" fill="none" stroke="#1a1a1a" stroke-opacity="0.4" stroke-width="0.5"/>
<rect x="519.55" y="198.4" width="0.9" height="1.5" fill="#1a1a1a" fill-opacity="0.6"/>
<text class="yl" transform="translate(485.6 108.4) rotate(-90)" x="0" y="2.1">Band Number</text>
<text class="cap" x="137.9" y="227.5">a</text>
<text class="cap" x="428.4" y="227.5">b</text>
<rect x="219.3" y="225.2" width="128.4" height="28.6" rx="3.5" ry="3.5" fill="#fff" stroke="#333" stroke-width="0.9"/>
<rect x="226.4" y="230.4" width="43" height="7" fill="#FFFF00" stroke="#444" stroke-width="0.5"/>
<rect x="226.4" y="241.3" width="43" height="7" fill="#3E26A8" stroke="#222" stroke-width="0.5"/>
<text class="lg" x="308.2" y="237">Selected Bands</text>
<text class="lg" x="310.2" y="248.2">Discarded Bands</text>
</svg></body></html>
